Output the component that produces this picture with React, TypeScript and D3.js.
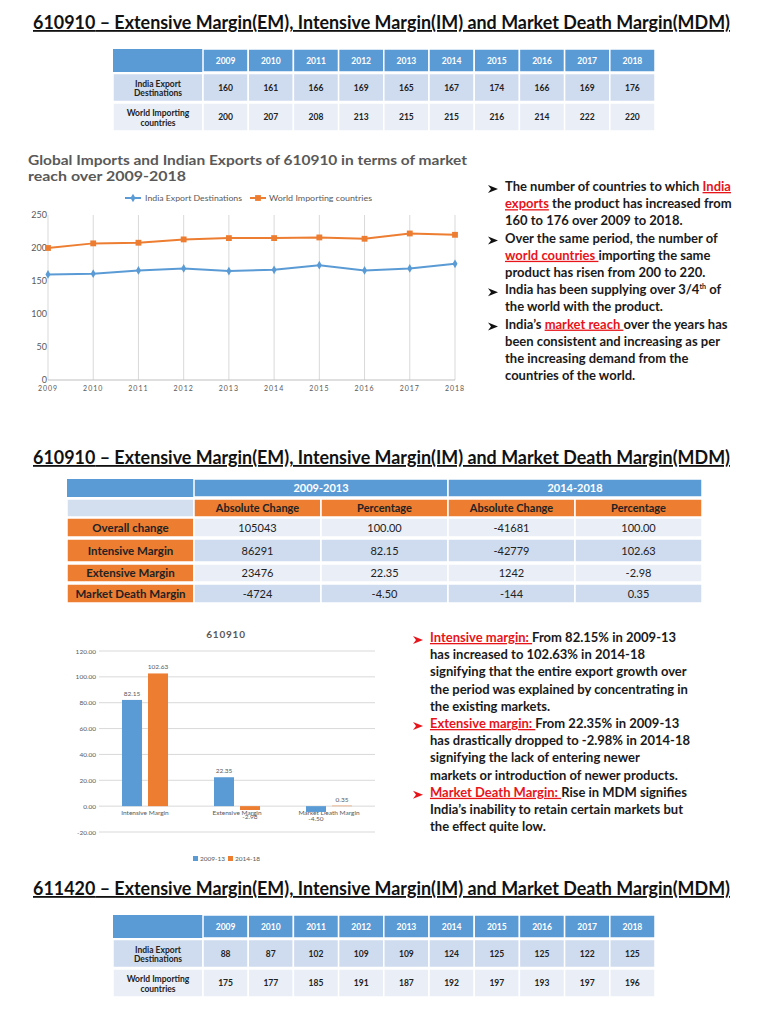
import React from "react";
import * as d3 from "d3";

const years = ["2009", "2010", "2011", "2012", "2013", "2014", "2015", "2016", "2017", "2018"];
const indiaDest610910 = [160, 161, 166, 169, 165, 167, 174, 166, 169, 176];
const worldImp610910 = [200, 207, 208, 213, 215, 215, 216, 214, 222, 220];
const indiaDest611420 = [88, 87, 102, 109, 109, 124, 125, 125, 122, 125];
const worldImp611420 = [175, 177, 185, 191, 187, 192, 197, 193, 197, 196];
const lineTicks = [0, 50, 100, 150, 200, 250];

const marginRows = ["Overall change", "Intensive Margin", "Extensive Margin", "Market Death Margin"];
const periods = ["2009-2013", "2014-2018"];
const absChange0913 = [105043, 86291, 23476, -4724];
const pct0913 = [100.0, 82.15, 22.35, -4.5];
const absChange1418 = [-41681, -42779, 1242, -144];
const pct1418 = [100.0, 102.63, -2.98, 0.35];

const barCategories = ["Intensive Margin", "Extensive Margin", "Market Death Margin"];
const barSeries = ["2009-13", "2014-18"];
const barTicks = [-20, 0, 20, 40, 60, 80, 100, 120];

const BLUE = "#5b9bd5";
const ORANGE = "#ed7d31";
const ROW_DARK = "#cfdbee";
const ROW_LIGHT = "#e9eef7";
const GREY = "#595959";
const FONT = "Lato, 'Open Sans', sans-serif";

/* ---------- section titles ---------- */
const SectionTitle = ({ y, code }: { y: number; code: string }) => (
  <text
    x={33}
    y={y}
    fontSize={18}
    fontWeight={700}
    fill="#111"
    style={{ textDecoration: "underline" }}
    textLength={697}
    lengthAdjust="spacingAndGlyphs"
  >
    {code} – Extensive Margin(EM), Intensive Margin(IM) and Market Death Margin(MDM)
  </text>
);

/* ---------- year tables ---------- */
const YearTable = ({ x, y, india, world }: { x: number; y: number; india: number[]; world: number[] }) => {
  const labelW = 90;
  const headH = 23;
  const rowH = 28;
  const xs = d3.scaleBand<string>().domain(years).range([x + labelW, 655]);
  const rows = [
    { l1: "India Export", l2: "Destinations", vals: india, fill: ROW_DARK },
    { l1: "World Importing", l2: "countries", vals: world, fill: ROW_LIGHT },
  ];
  return (
    <g fontFamily={FONT}>
      <rect x={x} y={y} width={labelW} height={headH} fill={BLUE} />
      {years.map((yr) => (
        <g key={yr}>
          <rect x={xs(yr)!} y={y} width={xs.bandwidth()} height={headH} fill={BLUE} stroke="#fff" strokeWidth={1.5} />
          <text x={xs(yr)! + xs.bandwidth() / 2} y={y + headH / 2 + 3} textAnchor="middle" fontSize={8.5} fontWeight={700} fill="#fff">
            {yr}
          </text>
        </g>
      ))}
      {rows.map((r, ri) => {
        const ry = y + headH + 1.5 + ri * (rowH + 1.5);
        return (
          <g key={r.l1}>
            <rect x={x} y={ry} width={labelW} height={rowH} fill={r.fill} stroke="#fff" strokeWidth={1.5} />
            <text x={x + labelW / 2} y={ry + rowH / 2 - 1} textAnchor="middle" fontSize={8.5} fontWeight={700} fill="#222">
              {r.l1}
            </text>
            <text x={x + labelW / 2} y={ry + rowH / 2 + 8.5} textAnchor="middle" fontSize={8.5} fontWeight={700} fill="#222">
              {r.l2}
            </text>
            {years.map((yr, i) => (
              <g key={yr}>
                <rect x={xs(yr)!} y={ry} width={xs.bandwidth()} height={rowH} fill={r.fill} stroke="#fff" strokeWidth={1.5} />
                <text x={xs(yr)! + xs.bandwidth() / 2} y={ry + rowH / 2 + 3} textAnchor="middle" fontSize={8.5} fontWeight={700} fill="#222">
                  {r.vals[i]}
                </text>
              </g>
            ))}
          </g>
        );
      })}
    </g>
  );
};

/* ---------- line chart ---------- */
const LineChart = () => {
  const x = d3.scalePoint<string>().domain(years).range([48, 455]);
  const y = d3.scaleLinear().domain([0, 250]).range([380, 215]);
  const line = d3
    .line<number>()
    .x((_, i) => x(years[i])!)
    .y((d) => y(d));
  const diamond = d3.symbol(d3.symbolDiamond, 22)()!;
  const square = d3.symbol(d3.symbolSquare, 34)()!;
  return (
    <g fontFamily={FONT}>
      <text x={28} y={165} fontSize={13} fontWeight={700} fill={GREY} textLength={439} lengthAdjust="spacingAndGlyphs">
        Global Imports and Indian Exports of 610910 in terms of market
      </text>
      <text x={28} y={181} fontSize={13} fontWeight={700} fill={GREY} textLength={158} lengthAdjust="spacingAndGlyphs">
        reach over 2009-2018
      </text>
      {/* legend */}
      <line x1={125} x2={141} y1={198} y2={198} stroke={BLUE} strokeWidth={2} />
      <path d={diamond} transform="translate(133,198)" fill={BLUE} />
      <text x={145} y={201} fontSize={7.5} fill={GREY} textLength={97} lengthAdjust="spacingAndGlyphs">
        India Export Destinations
      </text>
      <line x1={250} x2={266} y1={198} y2={198} stroke={ORANGE} strokeWidth={2} />
      <path d={square} transform="translate(258,198)" fill={ORANGE} />
      <text x={269} y={201} fontSize={7.5} fill={GREY} textLength={103} lengthAdjust="spacingAndGlyphs">
        World Importing countries
      </text>
      {years.map((yr) => (
        <line key={yr} x1={x(yr)} x2={x(yr)} y1={y(250)} y2={y(0)} stroke="#d9d9d9" strokeWidth={1} />
      ))}
      <line x1={x("2009")} x2={x("2018")} y1={y(0)} y2={y(0)} stroke="#bfbfbf" />
      {lineTicks.map((t) => (
        <text key={t} x={47} y={y(t) + 3} textAnchor="end" fontSize={9} fill={GREY}>
          {t}
        </text>
      ))}
      {years.map((yr) => (
        <text key={yr} x={x(yr)} y={391} textAnchor="middle" fontSize={7} fill={GREY} letterSpacing={1}>
          {yr}
        </text>
      ))}
      <path d={line(worldImp610910)!} fill="none" stroke={ORANGE} strokeWidth={2} />
      {worldImp610910.map((v, i) => (
        <path key={i} d={square} transform={`translate(${x(years[i])},${y(v)})`} fill={ORANGE} />
      ))}
      <path d={line(indiaDest610910)!} fill="none" stroke={BLUE} strokeWidth={2} />
      {indiaDest610910.map((v, i) => (
        <path key={i} d={diamond} transform={`translate(${x(years[i])},${y(v)})`} fill={BLUE} />
      ))}
    </g>
  );
};

/* ---------- bullet text ---------- */
type Seg = { t: string; red?: boolean; sup?: boolean };
const Arrow = ({ x, y, color }: { x: number; y: number; color: string }) => (
  <path d={`M${x},${y - 5} L${x + 10},${y - 1} L${x},${y + 3} L${x + 3},${y - 1} Z`} fill={color} />
);

const BulletBlock = ({
  x,
  y0,
  step,
  lines,
  arrows,
  arrowColor,
  fontSize,
}: {
  x: number;
  y0: number;
  step: number;
  lines: Seg[][];
  arrows: number[];
  arrowColor: string;
  fontSize: number;
}) => (
  <g fontFamily={FONT} fontSize={fontSize} fontWeight={700} fill="#1a1a1a">
    {arrows.map((li) => (
      <Arrow key={li} x={x - 17} y={y0 + li * step} color={arrowColor} />
    ))}
    {lines.map((segs, li) => (
      <text key={li} x={x} y={y0 + li * step + 1}>
        {segs.map((s, si) => {
          if (s.red)
            return (
              <tspan key={si} fill="#e8141a" style={{ textDecoration: "underline" }}>
                {s.t}
              </tspan>
            );
          if (s.sup)
            return (
              <tspan key={si} dy={-5} fontSize={fontSize * 0.55}>
                {s.t}
              </tspan>
            );
          const prevSup = si > 0 && segs[si - 1].sup;
          return (
            <tspan key={si} dy={prevSup ? 5 : undefined}>
              {s.t}
            </tspan>
          );
        })}
      </text>
    ))}
  </g>
);

const bullets1: Seg[][] = [
  [{ t: "The number of countries to which " }, { t: "India", red: true }],
  [{ t: "exports", red: true }, { t: " the product has increased from" }],
  [{ t: "160 to 176 over 2009 to 2018." }],
  [{ t: "Over the same period, the number of" }],
  [{ t: "world countries ", red: true }, { t: "importing the same" }],
  [{ t: "product has risen from 200 to 220." }],
  [{ t: "India has been supplying over 3/4" }, { t: "th", sup: true }, { t: " of" }],
  [{ t: "the world with the product." }],
  [{ t: "India’s " }, { t: "market reach ", red: true }, { t: "over the years has" }],
  [{ t: "been consistent and increasing as per" }],
  [{ t: "the increasing demand from the" }],
  [{ t: "countries of the world." }],
];

const bullets2: Seg[][] = [
  [{ t: "Intensive margin: ", red: true }, { t: "From 82.15% in 2009-13" }],
  [{ t: "has increased to 102.63% in 2014-18" }],
  [{ t: "signifying that the entire export growth over" }],
  [{ t: "the period was explained by concentrating in" }],
  [{ t: "the existing markets." }],
  [{ t: "Extensive margin: ", red: true }, { t: "From 22.35% in 2009-13" }],
  [{ t: "has drastically dropped to -2.98% in 2014-18" }],
  [{ t: "signifying the lack of entering newer" }],
  [{ t: "markets or introduction of newer products." }],
  [{ t: "Market Death Margin: ", red: true }, { t: "Rise in MDM signifies" }],
  [{ t: "India’s inability to retain certain markets but" }],
  [{ t: "the effect quite low." }],
];

/* ---------- margin table ---------- */
const MarginTable = () => {
  const x0 = 67;
  const labelW = 127;
  const cols = d3.scaleBand<number>().domain([0, 1, 2, 3]).range([x0 + labelW, 702]);
  const rowTops = [518, 539, 564, 584];
  const rowBottoms = [537, 562, 582, 603];
  const colVals = [absChange0913, pct0913, absChange1418, pct1418];
  const fmt = [(v: number) => String(v), (v: number) => v.toFixed(2), (v: number) => String(v), (v: number) => v.toFixed(2)];
  const subHeads = ["Absolute Change", "Percentage", "Absolute Change", "Percentage"];
  return (
    <g fontFamily={FONT}>
      <rect x={x0} y={479} width={labelW} height={18} fill={BLUE} />
      {periods.map((p, i) => (
        <g key={p}>
          <rect x={cols(i * 2)!} y={479} width={cols.bandwidth() * 2} height={18} fill={BLUE} stroke="#fff" strokeWidth={1.5} />
          <text x={cols(i * 2)! + cols.bandwidth()} y={492} textAnchor="middle" fontSize={11} fontWeight={700} fill="#fff">
            {p}
          </text>
        </g>
      ))}
      <rect x={x0} y={499} width={labelW} height={18} fill="#d3deef" stroke="#fff" strokeWidth={1.5} />
      {subHeads.map((h, i) => (
        <g key={i}>
          <rect x={cols(i)!} y={499} width={cols.bandwidth()} height={18} fill={ORANGE} stroke="#fff" strokeWidth={1.5} />
          <text x={cols(i)! + cols.bandwidth() / 2} y={512} textAnchor="middle" fontSize={11} fontWeight={700} fill="#222">
            {h}
          </text>
        </g>
      ))}
      {marginRows.map((r, ri) => {
        const ty = rowTops[ri];
        const h = rowBottoms[ri] - ty;
        const fill = ri % 2 === 0 ? ROW_LIGHT : ROW_DARK;
        return (
          <g key={r}>
            <rect x={x0} y={ty} width={labelW} height={h} fill={ORANGE} stroke="#fff" strokeWidth={1.5} />
            <text x={x0 + labelW / 2} y={ty + h / 2 + 4} textAnchor="middle" fontSize={11.5} fontWeight={700} fill="#222">
              {r}
            </text>
            {colVals.map((vals, ci) => (
              <g key={ci}>
                <rect x={cols(ci)!} y={ty} width={cols.bandwidth()} height={h} fill={fill} stroke="#fff" strokeWidth={1.5} />
                <text x={cols(ci)! + cols.bandwidth() / 2} y={ty + h / 2 + 4} textAnchor="middle" fontSize={11} fill="#222">
                  {fmt[ci](vals[ri])}
                </text>
              </g>
            ))}
          </g>
        );
      })}
    </g>
  );
};

/* ---------- bar chart ---------- */
const BarChart = () => {
  const x = d3.scaleBand<string>().domain(barCategories).range([99, 375]);
  const y = d3.scaleLinear().domain([-20, 120]).range([832, 651]);
  const series = [pct0913.slice(1), pct1418.slice(1)];
  const colors = [BLUE, ORANGE];
  const barW = 20;
  const offsets = [-23, 3];
  return (
    <g fontFamily={FONT}>
      <text x={226} y={638} textAnchor="middle" fontSize={10} fontWeight={700} fill={GREY} letterSpacing={0.8}>
        610910
      </text>
      {barTicks.map((t) => (
        <g key={t}>
          <line x1={99} x2={375} y1={y(t)} y2={y(t)} stroke="#d9d9d9" strokeWidth={1} />
          <text x={96} y={y(t) + 2.5} textAnchor="end" fontSize={6.5} fill={GREY}>
            {t.toFixed(2)}
          </text>
        </g>
      ))}
      {barCategories.map((c) => (
        <text key={c} x={x(c)! + x.bandwidth() / 2} y={815} textAnchor="middle" fontSize={6.5} fill={GREY}>
          {c}
        </text>
      ))}
      {series.map((vals, si) =>
        vals.map((v, i) => {
          const cx = x(barCategories[i])! + x.bandwidth() / 2 + offsets[si];
          const top = Math.min(y(v), y(0));
          const h = Math.abs(y(v) - y(0));
          return (
            <g key={`${si}-${i}`}>
              <rect x={cx} y={top} width={barW} height={h} fill={colors[si]} />
              <text
                x={cx + barW / 2}
                y={v >= 0 ? y(v) - 4 : y(v) + 9}
                textAnchor="middle"
                fontSize={6.5}
                fill={GREY}
              >
                {v.toFixed(2)}
              </text>
            </g>
          );
        })
      )}
      {barSeries.map((s, i) => (
        <g key={s}>
          <rect x={193 + i * 35} y={856} width={5} height={5} fill={colors[i]} />
          <text x={200 + i * 35} y={861} fontSize={6.5} fill={GREY}>
            {s}
          </text>
        </g>
      ))}
    </g>
  );
};

export default function App() {
  return (
    <svg
      width={768}
      height={1024}
      viewBox="0 0 768 1024"
      style={{ position: "absolute", left: 0, top: 0, background: "#fff" }}
      fontFamily={FONT}
    >
      <rect width={768} height={1024} fill="#fff" />
      <SectionTitle y={29} code="610910" />
      <YearTable x={113} y={49} india={indiaDest610910} world={worldImp610910} />
      <LineChart />
      <BulletBlock x={505} y0={190} step={17.2} lines={bullets1} arrows={[0, 3, 6, 8]} arrowColor="#111" fontSize={13} />
      <SectionTitle y={464} code="610910" />
      <MarginTable />
      <BarChart />
      <BulletBlock x={430} y0={641} step={17.2} lines={bullets2} arrows={[0, 5, 9]} arrowColor="#e8141a" fontSize={13} />
      <SectionTitle y={895} code="611420" />
      <YearTable x={113} y={915} india={indiaDest611420} world={worldImp611420} />
    </svg>
  );
}
